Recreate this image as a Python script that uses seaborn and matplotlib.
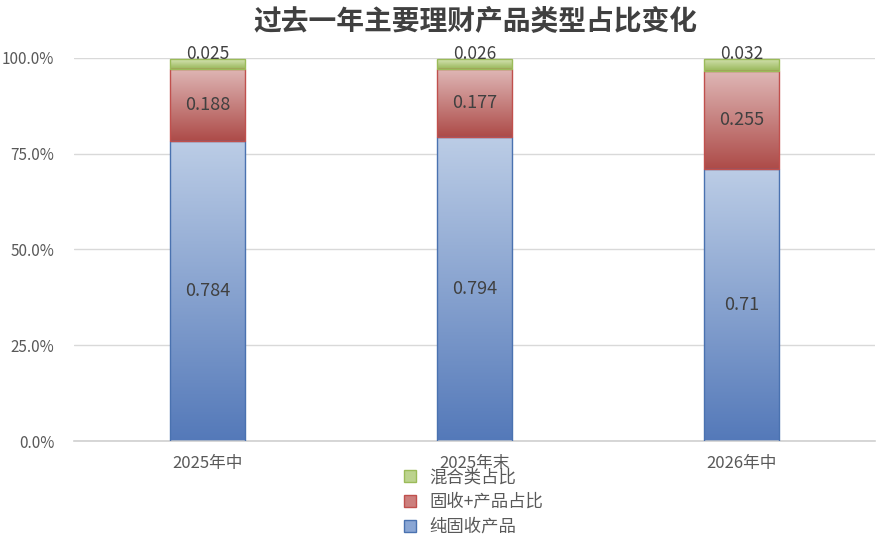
import numpy as np
import pandas as pd
import matplotlib
matplotlib.use("Agg")
import matplotlib.pyplot as plt
import matplotlib.colors as mcolors
from matplotlib.patches import Patch
from matplotlib.ticker import PercentFormatter, FixedLocator
import seaborn as sns

categories = ["2025年中", "2025年末", "2026年中"]
pure_fixed = [0.784, 0.794, 0.71]
fixed_plus = [0.188, 0.177, 0.255]
mixed = [0.025, 0.026, 0.032]
series_names = ["纯固收产品", "固收+产品占比", "混合类占比"]
title = "过去一年主要理财产品类型占比变化"

sns.set_theme(style="white")
plt.rcParams["font.family"] = ["Noto Sans CJK SC", "DejaVu Sans"]
plt.rcParams["axes.unicode_minus"] = False

# (top colour, bottom colour, edge colour)
styles = [
    ("#bccde6", "#5479b9", "#4a72b0"),
    ("#dfb7b6", "#ad4b48", "#c0504d"),
    ("#d6e4b4", "#98b759", "#9bbb59"),
]

fig = plt.figure(figsize=(8.78, 5.40), dpi=100)
ax = fig.add_axes([0.084, 0.183, 0.913, 0.710])

series = [pure_fixed, fixed_plus, mixed]
bottom = np.zeros(len(categories))
containers = []
for name, vals, (ctop, cbot, cedge) in zip(series_names, series, styles):
    df = pd.DataFrame({"cat": categories, "val": vals})
    sns.barplot(data=df, x="cat", y="val", ax=ax, color=cbot, width=0.28,
                bottom=bottom.copy(), edgecolor=cedge, linewidth=1.0,
                errorbar=None, saturation=1)
    containers.append(ax.containers[-1])
    bottom = bottom + np.array(vals)

# gradient fills
for cont, (ctop, cbot, cedge) in zip(containers, styles):
    cmap = mcolors.LinearSegmentedColormap.from_list("g", [ctop, cbot])
    grad = np.linspace(0, 1, 256).reshape(-1, 1)
    for p in cont.patches:
        x0, y0 = p.get_x(), p.get_y()
        w, h = p.get_width(), p.get_height()
        im = ax.imshow(grad, cmap=cmap, aspect="auto", origin="upper",
                       extent=[x0, x0 + w, y0, y0 + h], zorder=2)
        im.set_clip_path(p)
        p.set_facecolor("none")
        p.set_zorder(3)

ax.set_xlim(-0.5, 2.5)
ax.set_ylim(0, 1.0)
ax.set_aspect("auto")

# labels
txtc = "#404040"
ax.bar_label(containers[0], labels=[str(v) for v in pure_fixed],
             label_type="center", fontsize=13, color=txtc, zorder=5)
ax.bar_label(containers[1], labels=[str(v) for v in fixed_plus],
             label_type="center", fontsize=13, color=txtc, zorder=5)
ax.bar_label(containers[2], labels=[str(v) for v in mixed],
             label_type="edge", padding=-3, fontsize=12.5, color=txtc, zorder=5)

ax.yaxis.set_major_locator(FixedLocator([0, 0.25, 0.5, 0.75, 1.0]))
ax.yaxis.set_major_formatter(PercentFormatter(1.0, decimals=1))
ax.grid(axis="y", color="#d9d9d9", linewidth=1.0)
ax.set_axisbelow(True)
for s in ["top", "right", "left"]:
    ax.spines[s].set_visible(False)
ax.spines["bottom"].set_color("#d0d0d0")
ax.spines["bottom"].set_linewidth(1.2)
ax.tick_params(axis="y", length=0, labelsize=11, labelcolor="#595959", pad=14)
ax.tick_params(axis="x", which="major", length=0, labelsize=12,
               labelcolor="#595959", pad=10)
ax.set_xticks([0.5, 1.5], minor=True)
ax.tick_params(axis="x", which="minor", length=5, color="#d0d0d0", width=1.2,
               direction="out")
ax.set_xlabel("")
ax.set_ylabel("")

fig.text(0.541, 0.961, title, ha="center", va="center", fontsize=20,
         fontweight="bold", color="#404040")

legend_fill = ["#8aa6d4", "#cc7f7d", "#bcd38e"]
handles = [Patch(facecolor=f, edgecolor=s[2], linewidth=1.0)
           for f, s in zip(legend_fill, styles)]
leg = fig.legend(handles[::-1], series_names[::-1], loc="upper left",
                 bbox_to_anchor=(404 / 878, 1 - 468 / 540), frameon=False,
                 fontsize=12.5, handlelength=0.7, handleheight=0.7,
                 handletextpad=0.75, labelspacing=0.4, borderpad=0,
                 borderaxespad=0)
for t in leg.get_texts():
    t.set_color("#595959")

fig.savefig("out.png", dpi=100)
